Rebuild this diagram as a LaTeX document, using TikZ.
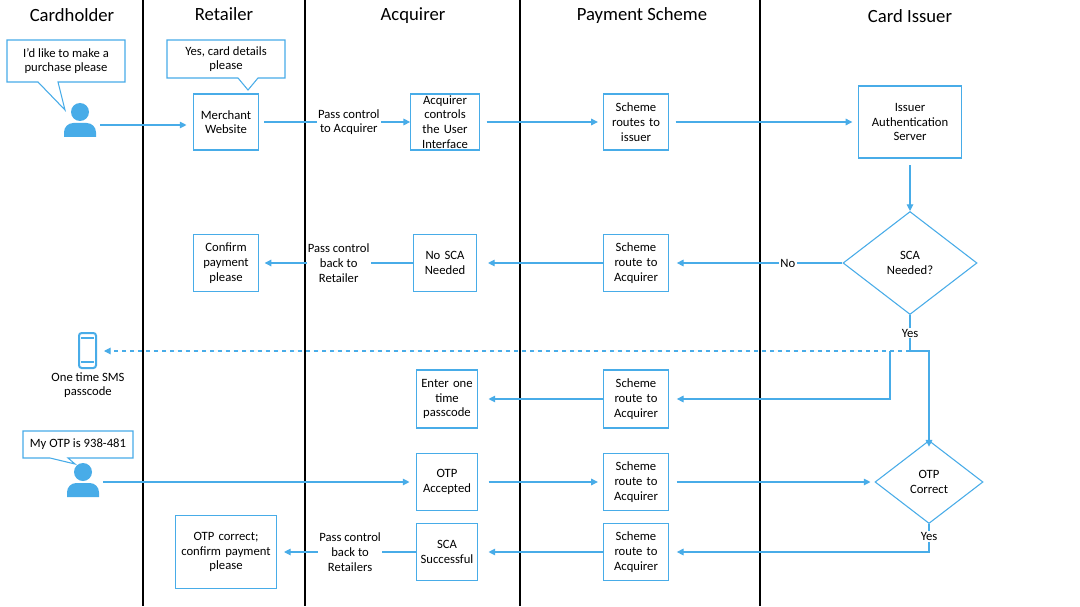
\documentclass[tikz,border=0pt]{standalone}
\usepackage{fontspec}
\setmainfont{Carlito}
\usetikzlibrary{shapes.geometric,arrows.meta}
\definecolor{bl}{HTML}{48ACE8}
\begin{document}
\begin{tikzpicture}[x=0.75pt,y=-0.75pt,
  box/.style={draw=bl,line width=0.8pt,align=center,font=\fontsize{9.5}{11}\selectfont,inner sep=1pt},
  dia/.style={draw=bl,line width=0.8pt,diamond,align=center,font=\fontsize{9.5}{11}\selectfont,inner sep=0pt},
  arr/.style={draw=bl,line width=0.8pt,-{Triangle[length=5pt,width=5pt]}},
  ln/.style={draw=bl,line width=0.8pt},
  lab/.style={align=center,font=\fontsize{9.5}{11}\selectfont,fill=white,inner sep=1pt},
  hd/.style={font=\fontsize{14}{16}\selectfont},
  lane/.style={draw=black,line width=0.8pt}]
\useasboundingbox (0,0) rectangle (1080,606);
\fill[white] (0,0) rectangle (1080,606);
\foreach \x in {143,305,520,760} \draw[lane] (\x,0) -- (\x,606);
\node[hd] (h1) at (72,15) {Cardholder};
\node[hd] (h2) at (224,14) {Retailer};
\node[hd] (h3) at (413,16) {Acquirer};
\node[hd] (h4) at (642,16) {Payment Scheme};
\node[hd] (h5) at (910,16) {Card Issuer};
% person icons
\newcommand\person[2]{%
 \fill[bl] (#1,#2-10) circle (9);
 \fill[bl] (#1-16,#2+15) [rounded corners=7pt] -- (#1-16,#2+1) -- (#1+16,#2+1) [sharp corners] -- (#1+16,#2+15) -- cycle;}
\person{80}{122}
\person{83}{482}
\coordinate (p1) at (100,125);
\coordinate (p2) at (103,482);
% callouts
\draw[ln,fill=white] (7,40) -- (125,40) -- (125,82) -- (58,82) -- (65,110) -- (38,82) -- (7,82) -- cycle;
\node[lab,fill=none] (c1) at (66,61) {I'd like to make a\\purchase please};
\draw[ln,fill=white] (167,40) -- (285,40) -- (285,78) -- (258,78) -- (248,90) -- (238,78) -- (167,78) -- cycle;
\node[lab,fill=none] (c2) at (226,59) {Yes, card details\\please};
\draw[ln,fill=white] (23,431) -- (133,431) -- (133,458) -- (68,458) -- (75,464) -- (50,458) -- (23,458) -- cycle;
\node[lab,fill=none] (c3) at (78,444) {My OTP is 938-481};
% phone
\draw[bl,line width=1.5pt,rounded corners=2pt] (79,333) rectangle (96,368);
\draw[bl,line width=1pt] (81,338) -- (94,338) (81,362) -- (94,362);
\coordinate (ph) at (104,351);
\node[lab] (smst) at (88,385) {One time SMS\\passcode};
% boxes
\node[box,text width=62*0.75pt,minimum height=56*0.75pt] (mw) at (226,122) {Merchant\\Website};
\node[box,text width=66*0.75pt,minimum height=56*0.75pt] (ac) at (445,122) {Acquirer\\controls\\the User\\Interface};
\node[box,text width=62*0.75pt,minimum height=56*0.75pt] (s1) at (636,122) {Scheme\\routes to\\issuer};
\node[box,text width=101*0.75pt,minimum height=72*0.75pt] (ias) at (910,122) {Issuer\\Authentication\\Server};
\node[dia,minimum width=134*0.75pt,minimum height=103*0.75pt] (d1) at (910,263) {SCA\\Needed?};
\node[box,text width=62*0.75pt,minimum height=57*0.75pt] (s2) at (636,263) {Scheme\\route to\\Acquirer};
\node[box,text width=61*0.75pt,minimum height=57*0.75pt] (ns) at (445,263) {No SCA\\Needed};
\node[box,text width=63*0.75pt,minimum height=57*0.75pt] (cp) at (226,263) {Confirm\\payment\\please};
\node[box,text width=58*0.75pt,minimum height=58*0.75pt] (eo) at (447,399) {Enter one\\time\\passcode};
\node[box,text width=62*0.75pt,minimum height=58*0.75pt] (s3) at (636,399) {Scheme\\route to\\Acquirer};
\node[box,text width=58*0.75pt,minimum height=57*0.75pt] (oa) at (447,482) {OTP\\Accepted};
\node[box,text width=62*0.75pt,minimum height=57*0.75pt] (s4) at (636,482) {Scheme\\route to\\Acquirer};
\node[dia,minimum width=108*0.75pt,minimum height=83*0.75pt] (d2) at (929,482) {OTP\\Correct};
\node[box,text width=58*0.75pt,minimum height=57*0.75pt] (ss) at (447,552) {SCA\\Successful};
\node[box,text width=62*0.75pt,minimum height=57*0.75pt] (s5) at (636,552) {Scheme\\route to\\Acquirer};
\node[box,text width=99*0.75pt,minimum height=73*0.75pt] (oc) at (226,552) {OTP correct;\\confirm payment\\please};
% arrows
\draw[arr] (p1) -- ([xshift=-5pt]mw.west|-p1);
\draw[arr] ([xshift=4pt]mw.east) -- node[lab,pos=0.58] (l1) {Pass control\\to Acquirer} (ac.west);
\draw[arr] ([xshift=5pt]ac.east) -- ([xshift=-4pt]s1.west);
\draw[arr] ([xshift=5pt]s1.east) -- ([xshift=-4pt]ias.west);
\draw[arr] ([yshift=-5pt]ias.south) -- (d1.north);
\draw[arr] (d1.west) -- node[lab,pos=0.33] (no) {No} ([xshift=6pt]s2.east);
\draw[arr] (s2.west) -- ([xshift=8pt]ns.east);
\draw[arr] (ns.west) -- node[lab] (l2) {Pass control\\back to\\Retailer} ([xshift=4pt]cp.east);
\coordinate (y1) at (910,351);
\draw[ln] (d1.south) -- node[lab,pos=0.5] (yes1) {Yes} (y1);
\draw[arr,dashed] (y1) -- (ph);
\draw[arr] (y1) -| ([yshift=-5pt]d2.north);
\draw[arr] (890,351) |- ([xshift=6pt]s3.east);
\draw[arr] (s3.west) -- ([xshift=8pt]eo.east);
\draw[arr] (p2) -- ([xshift=-5pt]oa.west);
\draw[arr] ([xshift=8pt]oa.east) -- ([xshift=-4pt]s4.west);
\draw[arr] ([xshift=6pt]s4.east) -- ([xshift=-3pt]d2.west);
\draw[arr] (d2.south) -- node[lab,pos=0.45] (yes2) {Yes} (929,552) -- ([xshift=6pt]s5.east);
\draw[arr] (s5.west) -- ([xshift=8pt]ss.east);
\draw[arr] (ss.west) -- node[lab] (l3) {Pass control\\back to\\Retailers} ([xshift=5pt]oc.east);
\end{tikzpicture}
\end{document}
